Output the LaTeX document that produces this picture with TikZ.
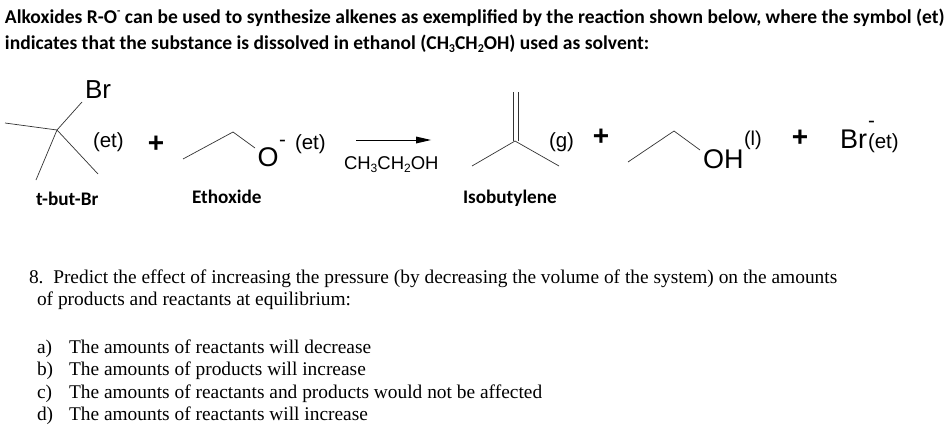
\documentclass[tikz,border=0pt]{standalone}
\usepackage{fontspec}
\setmainfont{Liberation Serif}
\newfontfamily\hdfont{Carlito}[BoldFont={Carlito Bold}]
\newfontfamily\chemfont{Liberation Sans}
\newcommand{\fs}[1]{\fontsize{#1}{#1}\selectfont}
\newcommand{\lowsub}[1]{\raisebox{-0.16em}{\fs{12}#1}}
\begin{document}
\begin{tikzpicture}[x=1pt,y=-1pt,
  every node/.style={inner sep=0pt,outer sep=0pt,anchor=base west},
  hd/.style={font=\hdfont\bfseries\fs{19.55}},
  captext/.style={font=\hdfont\bfseries\fs{19.2}},
  big/.style={font=\chemfont\fs{26}},
  mid/.style={font=\chemfont\fs{20.5}},
  q/.style={font=\fs{19.4}},
  bond/.style={draw=black!80,line width=0.7pt},
  plussign/.style={anchor=center,font=\chemfont\bfseries\fs{28}}]
\useasboundingbox (0,0) rectangle (947,428);
\fill[white] (0,0) rectangle (947,428);
% header
\node[hd] (h1) at (5,24) {Alkoxides R-O\raisebox{0.5em}{\fs{11}-} can be used to synthesize alkenes as exemplified by the reaction shown below, where the symbol (et)};
\node[hd] (h2) at (5,49) {indicates that the substance is dissolved in ethanol (CH\lowsub{3}CH\lowsub{2}OH) used as solvent:};
% t-butyl bromide
\coordinate (c0) at (57,130);
\coordinate (m1) at (5,123);
\coordinate (m2) at (36,180);
\coordinate (m3) at (98,174);
\coordinate (brb) at (82,102);
\draw[bond] (m1) -- (c0) -- (brb);
\draw[bond] (m2) -- (c0) -- (m3);
\node[big] (br1) at (85,98) {Br};
\node[mid] (et1) at (93,147) {(et)};
\node[plussign] (p1) at (156,144) {+};
% ethoxide
\node[font=\chemfont\fs{27}] (ox) at (257.5,166.5) {O};
\node[mid] (om) at (279,146) {-};
\node[mid] (et2) at (295,149) {(et)};
\coordinate (e1) at (183,159);
\coordinate (e2) at (233,132);
\coordinate (e3) at (255,148);
\draw[bond] (e1) -- (e2) -- (e3);
% arrow
\coordinate (a1) at (356,140);
\coordinate (a2) at (431,140);
\draw[line width=0.9pt] (a1) -- (416,140);
\fill (416,136.5) -- (a2) -- (416,143.5) -- cycle;
\node[font=\chemfont\fs{18.5}] (solv) at (344,169) {CH\raisebox{-0.2em}{\fs{12}3}CH\raisebox{-0.2em}{\fs{12}2}OH};
% isobutylene
\coordinate (i0) at (515,141);
\coordinate (i1) at (472,166);
\coordinate (i2) at (559,166);
\draw[bond] (i1) -- (i0) -- (i2);
\draw[bond] (513,92) -- (513,141);
\draw[bond] (518,92) -- (518,141);
\node[mid] (g) at (549,147) {(g)};
\node[plussign] (p2) at (601,137) {+};
% ethanol
\coordinate (o1) at (628,162);
\coordinate (o2) at (674,131);
\coordinate (o3) at (700,150);
\draw[bond] (o1) -- (o2) -- (o3);
\node[font=\chemfont\fs{27}] (oh) at (703,168.5) {OH};
\node[font=\chemfont\fs{20}] (l) at (744,145) {(l)};
\node[plussign] (p3) at (800,138.5) {+};
% bromide
\node[font=\chemfont\fs{27}] (br2) at (840,148) {Br};
\node[mid] (et3) at (868,148) {(et)};
\node[mid] (brm) at (868,127) {-};
% captions
\node[captext] (c1) at (36,205) {t-but-Br};
\node[captext] (c2) at (192,203) {Ethoxide};
\node[captext] (c3) at (463,203) {Isobutylene};
% question
\node[q] (q1) at (29,283) {8.\ \ Predict the effect of increasing the pressure (by decreasing the volume of the system) on the amounts};
\node[q] (q2) at (37,305) {of products and reactants at equilibrium:};
\node[q] (la) at (37,353) {a)};
\node[q] (ta) at (69,353) {The amounts of reactants will decrease};
\node[q] (lb) at (37,375) {b)};
\node[q] (tb) at (69,375) {The amounts of products will increase};
\node[q] (lc) at (37,398) {c)};
\node[q] (tc) at (69,398) {The amounts of reactants and products would not be affected};
\node[q] (ld) at (37,420) {d)};
\node[q] (td) at (69,420) {The amounts of reactants will increase};
\end{tikzpicture}
\end{document}
